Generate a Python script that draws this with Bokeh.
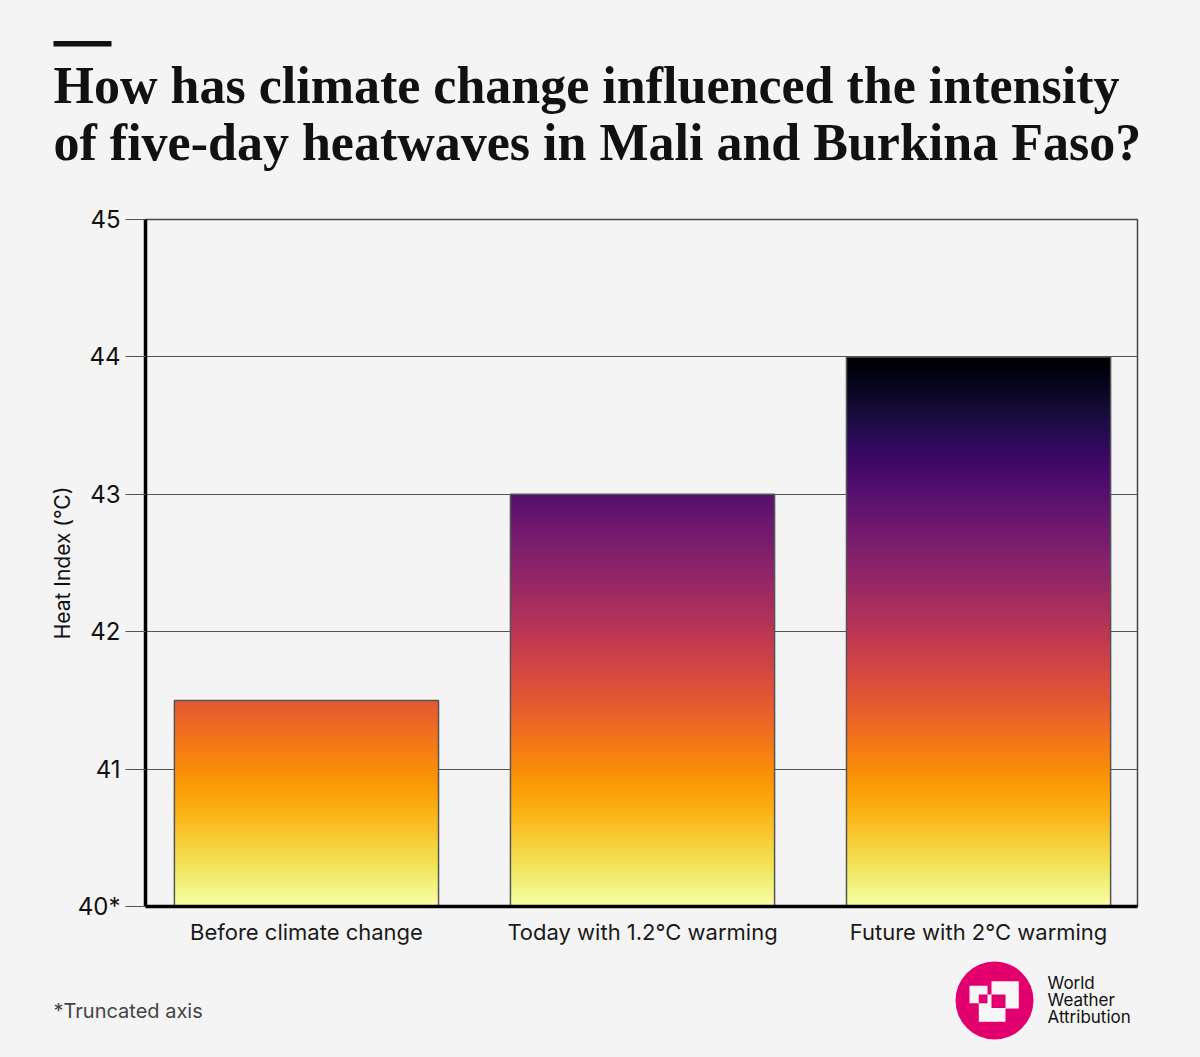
import numpy as np
from bokeh.plotting import figure
from bokeh.layouts import column
from bokeh.models import Range1d, FixedTicker, LinearColorMapper
from bokeh.palettes import Inferno256
from bokeh.core.properties import value
from bokeh.embed import file_html
from bokeh.resources import INLINE

# ---------------- data ----------------
categories = ["Before climate change", "Today with 1.2°C warming", "Future with 2°C warming"]
heat_index = [41.5, 43.0, 44.0]
y_ticks = [40, 41, 42, 43, 44, 45]
y_tick_labels = ["40*", "41", "42", "43", "44", "45"]
title_lines = ["How has climate change influenced the intensity",
               "of five-day heatwaves in Mali and Burkina Faso?"]
y_label = "Heat Index (°C)"
footnote = "*Truncated axis"
brand_lines = ["World", "Weather", "Attribution"]

# ---------------- style ----------------
BG = "#f4f4f4"
SANS = "Inter"
SERIF = "Liberation Serif"
MAGENTA = "#e1006e"
W = 1200
CMAP_LOW, CMAP_HIGH = 40, 44
X0, X1 = -0.479, 2.473
Y0, Y1 = 40, 45

# ---------------- title strip ----------------
top = figure(width=W, height=190, x_range=Range1d(0, W), y_range=Range1d(190, 0),
             x_axis_type=None, y_axis_type=None, toolbar_location=None,
             output_backend="svg", min_border=0, background_fill_color=BG,
             border_fill_color=BG, outline_line_color=None, frame_align=False)
top.quad(left=[53], right=[111], top=[40.5], bottom=[46], fill_color="#111111", line_color=None)
top.text(x=[53, 53], y=[85, 142], text=title_lines, text_font=value(SERIF),
         text_font_style="bold", text_font_size="52px", text_color="#111111",
         text_baseline="alphabetic", text_align="left")

# ---------------- main chart ----------------
xs = np.arange(len(categories))
bar_w = 0.786
main = figure(width=W, height=760, x_range=Range1d(X0, X1), y_range=Range1d(Y0, Y1),
              toolbar_location=None, output_backend="svg", frame_align=False,
              min_border_left=145, min_border_right=63, min_border_top=29, min_border_bottom=44,
              background_fill_color=BG, border_fill_color=BG)

# gradient fill for each bar: colour follows the y value
cmap = LinearColorMapper(palette=list(Inferno256[::-1]), low=CMAP_LOW, high=CMAP_HIGH)
step = 0.005
for x, v in zip(xs, heat_index):
    n = int(round((v - Y0) / step))
    edges = np.linspace(Y0, v, n + 1)
    mids = ((edges[:-1] + edges[1:]) / 2).reshape(n, 1)
    main.image(image=[mids], x=x - bar_w / 2, y=Y0, dw=bar_w, dh=v - Y0, color_mapper=cmap)
main.quad(left=list(xs - bar_w / 2), right=list(xs + bar_w / 2), bottom=[Y0] * len(xs),
          top=heat_index, fill_color=None, line_color="#555555", line_width=1.5)

# axes
main.xaxis.ticker = FixedTicker(ticks=[int(i) for i in xs])
main.xaxis.major_label_overrides = {int(i): c for i, c in zip(xs, categories)}
main.xaxis.major_tick_line_color = None
main.xaxis.minor_tick_line_color = None
main.xaxis.axis_line_width = 3.5
main.xaxis.axis_line_color = "#000000"
main.xaxis.major_label_text_font = SANS
main.xaxis.major_label_text_font_size = "22px"
main.xaxis.major_label_text_color = "#1a1a1a"
main.xaxis.major_label_standoff = 6
main.xgrid.visible = False

main.yaxis.ticker = FixedTicker(ticks=y_ticks)
main.yaxis.major_label_overrides = dict(zip(y_ticks, y_tick_labels))
main.yaxis.minor_tick_line_color = None
main.yaxis.major_tick_in = 0
main.yaxis.major_tick_out = 20
main.yaxis.major_tick_line_color = "#555555"
main.yaxis.axis_line_width = 3.5
main.yaxis.axis_line_color = "#000000"
main.yaxis.major_label_text_font = SANS
main.yaxis.major_label_text_font_size = "24px"
main.yaxis.major_label_text_color = "#111111"
main.yaxis.major_label_standoff = 5
main.yaxis.axis_label = y_label
main.yaxis.axis_label_text_font = SANS
main.yaxis.axis_label_text_font_size = "21px"
main.yaxis.axis_label_text_font_style = "normal"
main.yaxis.axis_label_text_color = "#111111"
main.yaxis.axis_label_standoff = 0
main.ygrid.ticker = FixedTicker(ticks=y_ticks)
main.ygrid.grid_line_color = "#555555"
main.ygrid.grid_line_width = 1
main.outline_line_color = "#444444"
main.outline_line_width = 1.5

# ---------------- footer ----------------
bot = figure(width=W, height=107, x_range=Range1d(0, W), y_range=Range1d(1057, 950),
             x_axis_type=None, y_axis_type=None, toolbar_location=None,
             output_backend="svg", min_border=0, background_fill_color=BG,
             border_fill_color=BG, outline_line_color=None, frame_align=False)
bot.text(x=[53], y=[1010], text=[footnote], text_font=value(SANS), text_font_size="20px",
         text_color="#444444", text_baseline="alphabetic", text_align="left")
bot.circle(x=[994], y=[1000], radius=39, fill_color=MAGENTA, line_color=None)
bot.quad(left=[969, 991, 978.3], right=[987, 1018.3, 1005],
         top=[985.3, 980.7, 994], bottom=[1002.7, 1008, 1021.3],
         fill_color="#f6f6f6", line_color=None)
bot.quad(left=[978.3, 991], right=[987, 1005], top=[994, 994], bottom=[1002.7, 1007.5],
         fill_color=MAGENTA, line_color=None)
bot.text(x=[1047] * 3, y=[982, 999, 1016], text=brand_lines, text_font=value(SANS),
         text_font_size="17px", text_color="#111111", text_baseline="alphabetic",
         text_align="left")

layout = column(top, main, bot, spacing=0, styles={"background-color": BG})
open("out.html", "w").write(file_html(layout, INLINE))
